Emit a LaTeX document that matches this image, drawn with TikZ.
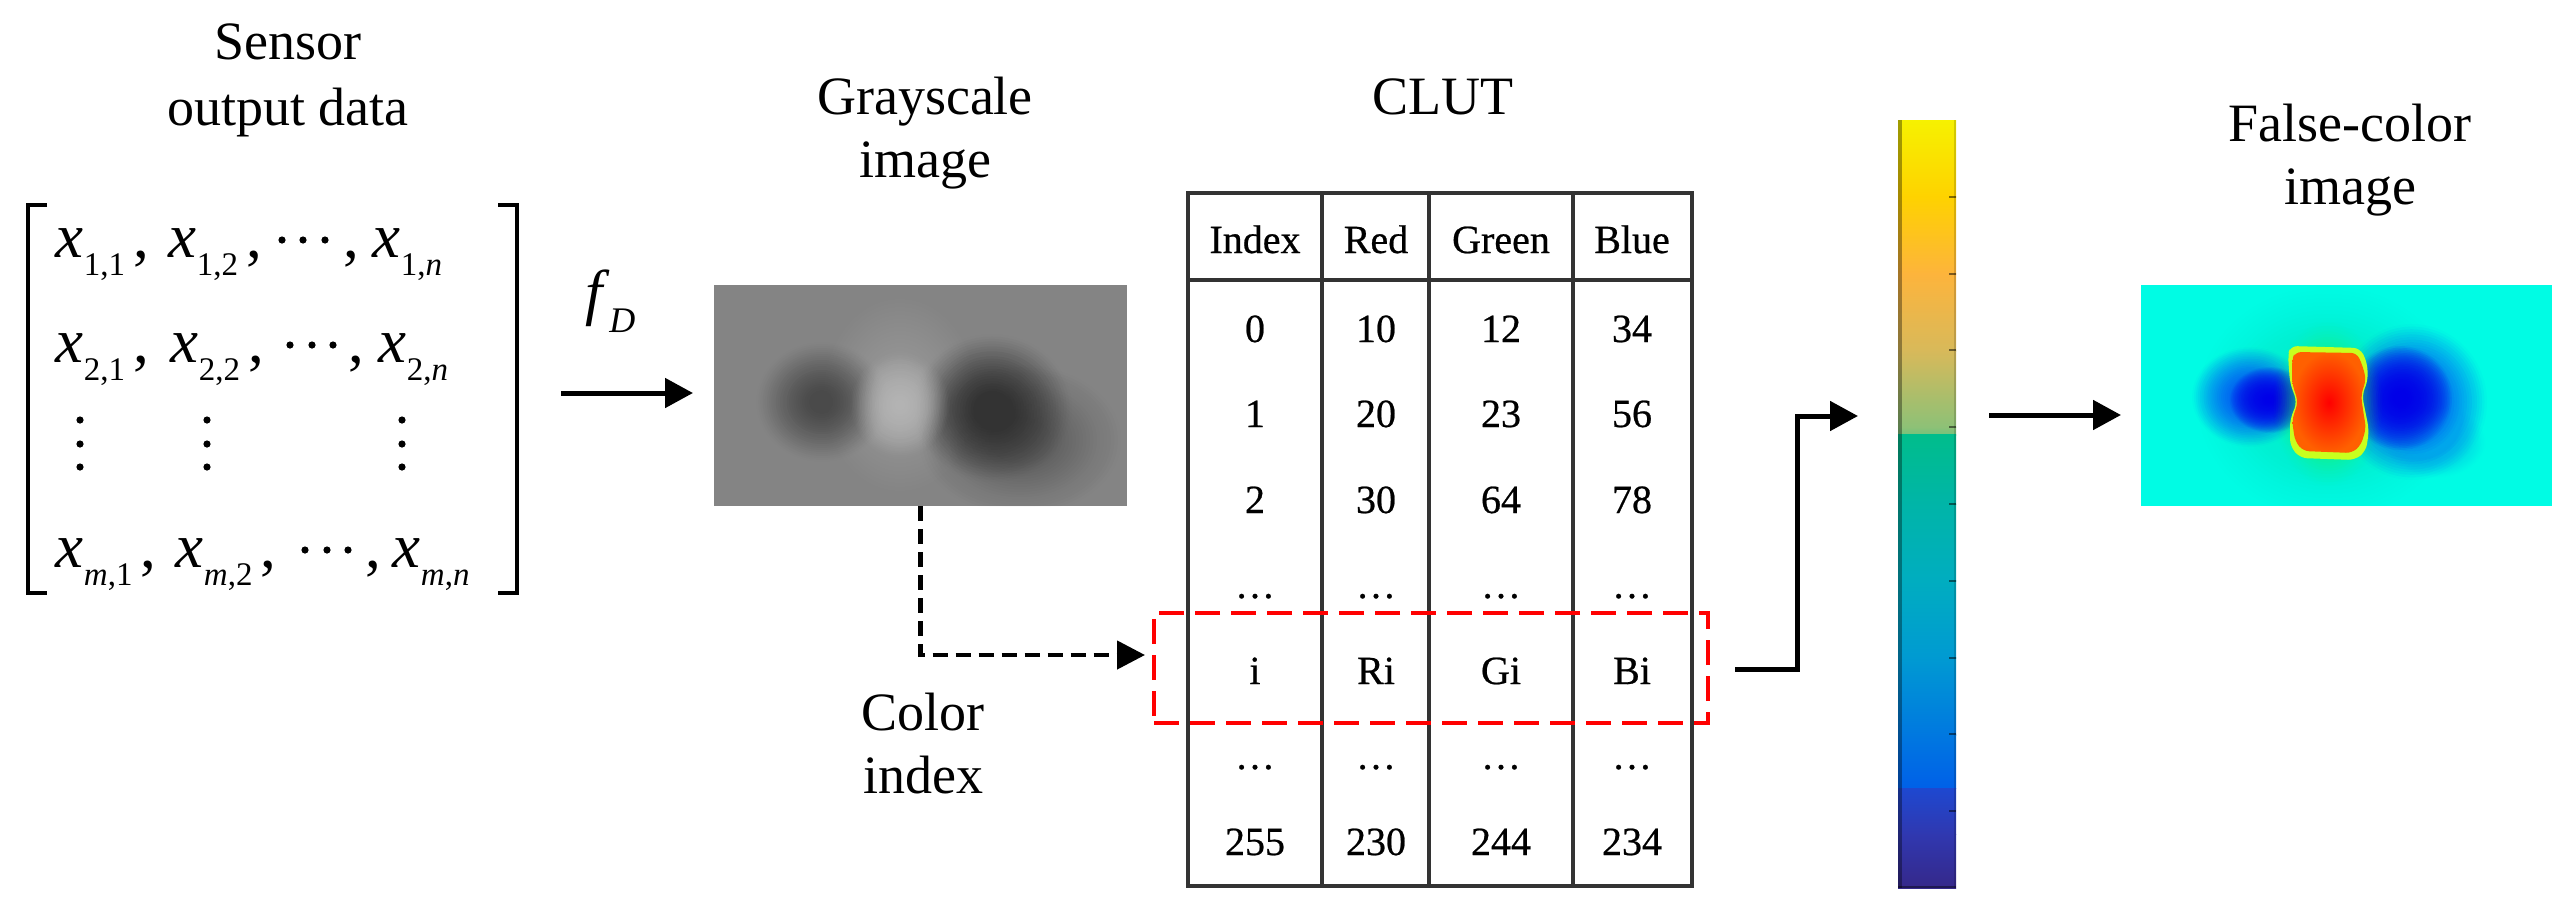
\documentclass[tikz,border=0pt]{standalone}
\usepackage{fontspec}
\setmainfont{Liberation Serif}
\newfontfamily\tabfont{Liberation Serif}[FakeBold=0.6]
\usetikzlibrary{arrows.meta}
\newcommand\fs[1]{\fontsize{#1}{#1}\selectfont}
\newcommand\xe[2]{\textit{x}\kern1pt\raisebox{-18pt}{\fs{33}#1,#2}}
% soft blob: colour, cx, cy, rx, ry, peak opacity, profile exponent
\newcommand\softblob[7]{%
  \foreach \i in {1,...,30}{%
    \pgfmathsetmacro\ta{(\i-0.5)/30}%
    \pgfmathsetmacro\tb{(\i+0.5)/30}%
    \pgfmathsetmacro\Ta{1-#6*max(0.00001,1-\ta*\ta)^#7}%
    \pgfmathsetmacro\Tb{1-#6*max(0.00001,1-\tb*\tb)^#7}%
    \pgfmathsetmacro\al{max(0,1-\Ta/\Tb)}%
    \pgfmathsetmacro\rxx{#4*\i/30}\pgfmathsetmacro\ryy{#5*\i/30}%
    \fill[#1, opacity=\al] (#2,#3) ellipse [x radius=\rxx pt, y radius=\ryy pt];}}
\definecolor{gbase}{HTML}{848484}
\definecolor{gdarkL}{HTML}{4A4A4A}
\definecolor{gdarkR}{HTML}{333333}
\definecolor{glight}{HTML}{BCBCBC}
\definecolor{fbase}{HTML}{00FCE4}
\definecolor{fglow}{HTML}{10F0A8}
\definecolor{fhalo}{HTML}{30FF50}
\definecolor{frim}{HTML}{C8FF1E}
\definecolor{forange}{HTML}{FF6000}
\definecolor{fred}{HTML}{FF0000}
\definecolor{fbl}{HTML}{0050FF}
\definecolor{fbd}{HTML}{0000E8}
\definecolor{cb0}{HTML}{F6F100}
\definecolor{cb1}{HTML}{FED200}
\definecolor{cb2}{HTML}{FDB43C}
\definecolor{cb3}{HTML}{D8B95A}
\definecolor{cb4}{HTML}{8CC177}
\definecolor{cb4b}{HTML}{72C27C}
\definecolor{cb5a}{HTML}{00BD8C}
\definecolor{cb5}{HTML}{00B5A8}
\definecolor{cb6}{HTML}{00ADC0}
\definecolor{cb7}{HTML}{009AD2}
\definecolor{cb8}{HTML}{0078E0}
\definecolor{cb87}{HTML}{0060E8}
\definecolor{cb87b}{HTML}{1E48D0}
\definecolor{cb93}{HTML}{3038B0}
\definecolor{cb10}{HTML}{35288A}
\begin{document}
\begin{tikzpicture}[x=1pt,y=-1pt,
  every node/.style={inner sep=0pt, outer sep=0pt},
  ttl/.style={anchor=base, font=\fs{54}},
  cell/.style={anchor=base, font=\tabfont\fs{40}},
  ent/.style={anchor=base west, font=\fs{63}},
  arr/.style={line width=5pt, -{Triangle[length=28pt,width=29pt]}},
  darr/.style={line width=4.5pt, dash pattern=on 15pt off 8pt, -{Triangle[length=28pt,width=28pt]}},
  tab/.style={line width=3.5pt, draw=black!80},
  brk/.style={line width=4.5pt},
  ticks/.style={line width=2pt, draw=black, opacity=0.5}
]
\useasboundingbox (0,0) rectangle (2567,900);

% ---------- titles ----------
\node[ttl] (t1a) at (288,59) {Sensor};
\node[ttl] (t1b) at (288,125) {output data};
\node[ttl] (t2a) at (925,114) {Grayscale};
\node[ttl] (t2b) at (925,177) {image};
\node[ttl] (t3) at (1443,114) {CLUT};
\node[ttl] (t4a) at (2350,141) {False-color};
\node[ttl] (t4b) at (2350,204) {image};
\node[ttl] (t5a) at (923,730) {Color};
\node[ttl] (t5b) at (923,793) {index};

% ---------- matrix ----------
\draw[brk] (47,205) -- (28,205) -- (28,593) -- (47,593);
\draw[brk] (498,205) -- (517,205) -- (517,593) -- (498,593);
\node[ent] (x11) at (55,257) {\xe{1}{1}\kern8pt,};
\node[ent] (x12) at (168,257) {\xe{1}{2}\kern8pt,};
\node[ent] (c1) at (343,257) {,};
\node[ent] (x1n) at (372,257) {\xe{1}{\textit{n}}};
\node[ent] (x21) at (55,362) {\xe{2}{1}\kern8pt,};
\node[ent] (x22) at (170,362) {\xe{2}{2}\kern8pt,};
\node[ent] (c2) at (348,362) {,};
\node[ent] (x2n) at (378,362) {\xe{2}{\textit{n}}};
\node[ent] (xm1) at (55,567) {\xe{\textit{m}}{1}\kern8pt,};
\node[ent] (xm2) at (175,567) {\xe{\textit{m}}{2}\kern8pt,};
\node[ent] (c3) at (365,567) {,};
\node[ent] (xmn) at (392,567) {\xe{\textit{m}}{\textit{n}}};
\foreach \px/\py in {282/240,303/240,325/240,290/345,312/345,333/345,305/550,327/550,348/550}
  \fill (\px,\py) circle (3.6pt);
\foreach \px in {80,207,402}
  \foreach \py in {420,444,467}
    \fill (\px,\py) circle (3.6pt);

% ---------- f_D arrow ----------
\node[anchor=base west, font=\fs{62}] (fD) at (585,313) {\textit{f}\raisebox{-19pt}{\fs{36}\textit{D}}};
\coordinate (a1s) at (561,393);
\coordinate (a1e) at (693,393);
\draw[arr] (a1s) -- (a1e);

% ---------- grayscale image ----------
\node[minimum width=413pt, minimum height=221pt, fill=gbase] (gray) at (920.5,395.5) {};
\begin{scope}
  \clip (gray.south west) rectangle (gray.north east);
  \softblob{white}{900}{395}{95}{120}{0.25}{2}
  \softblob{black}{1020}{440}{105}{78}{0.22}{1.6}
  \softblob{gdarkL}{822}{402}{66}{60}{0.88}{1.5}
  \softblob{gdarkR}{992}{408}{80}{74}{0.92}{1.4}
  \softblob{glight}{900}{405}{50}{54}{0.95}{1.3}
\end{scope}

% ---------- dashed connector ----------
\coordinate (dA) at (1145,655);
\draw[darr] (gray.south) |- (dA);

% ---------- CLUT table ----------
\node[tab, draw, line width=3.5pt, minimum width=504pt, minimum height=693pt] (clut) at (1440,539.5) {};
\draw[tab] (1188,280) -- (1692,280);
\foreach \cx in {1322,1429,1573} \draw[tab] (\cx,193) -- (\cx,886);
\node[cell] (h1) at (1255,253) {Index};
\node[cell] (h2) at (1376,253) {Red};
\node[cell] (h3) at (1501,253) {Green};
\node[cell] (h4) at (1632,253) {Blue};
\node[cell] (r01) at (1255,342) {0};
\node[cell] (r02) at (1376,342) {10};
\node[cell] (r03) at (1501,342) {12};
\node[cell] (r04) at (1632,342) {34};
\node[cell] (r11) at (1255,427) {1};
\node[cell] (r12) at (1376,427) {20};
\node[cell] (r13) at (1501,427) {23};
\node[cell] (r14) at (1632,427) {56};
\node[cell] (r21) at (1255,513) {2};
\node[cell] (r22) at (1376,513) {30};
\node[cell] (r23) at (1501,513) {64};
\node[cell] (r24) at (1632,513) {78};
\node[cell] (d11) at (1255,598) {…};
\node[cell] (d12) at (1376,598) {…};
\node[cell] (d13) at (1501,598) {…};
\node[cell] (d14) at (1632,598) {…};
\node[cell] (ri1) at (1255,684) {i};
\node[cell] (ri2) at (1376,684) {Ri};
\node[cell] (ri3) at (1501,684) {Gi};
\node[cell] (ri4) at (1632,684) {Bi};
\node[cell] (d21) at (1255,769) {…};
\node[cell] (d22) at (1376,769) {…};
\node[cell] (d23) at (1501,769) {…};
\node[cell] (d24) at (1632,769) {…};
\node[cell] (rl1) at (1255,855) {255};
\node[cell] (rl2) at (1376,855) {230};
\node[cell] (rl3) at (1501,855) {244};
\node[cell] (rl4) at (1632,855) {234};

% ---------- selection box ----------
\node[draw=red, line width=3.5pt, dash pattern=on 25pt off 11pt, minimum width=554pt, minimum height=110pt] (sel) at (1431,668) {};

% ---------- arrow to colour bar ----------
\coordinate (a2s) at (1735,669);
\coordinate (a2m) at (1797,416);
\coordinate (a2e) at (1858,416);
\draw[arr] (a2s) -| (a2m) -- (a2e);

% ---------- colour bar ----------
\node[minimum width=58pt, minimum height=768pt] (cbar) at (1927,504) {};
\shade[top color=cb0, bottom color=cb1] (1898,120) rectangle (1956,197.5);
\shade[top color=cb1, bottom color=cb2] (1898,196.8) rectangle (1956,274.3);
\shade[top color=cb2, bottom color=cb3] (1898,273.6) rectangle (1956,351.1);
\shade[top color=cb3, bottom color=cb4] (1898,350.4) rectangle (1956,427.9);
\shade[top color=cb4, bottom color=cb4b] (1898,427.2) rectangle (1956,435.6);
\shade[top color=cb5a, bottom color=cb5] (1898,434.9) rectangle (1956,504.7);
\shade[top color=cb5, bottom color=cb6] (1898,504) rectangle (1956,581.5);
\shade[top color=cb6, bottom color=cb7] (1898,580.8) rectangle (1956,658.3);
\shade[top color=cb7, bottom color=cb8] (1898,657.6) rectangle (1956,735.1);
\shade[top color=cb8, bottom color=cb87] (1898,734.4) rectangle (1956,788.9);
\shade[top color=cb87b, bottom color=cb93] (1898,788.2) rectangle (1956,834.9);
\shade[top color=cb93, bottom color=cb10] (1898,834.2) rectangle (1956,888);
\draw[line width=3.5pt, black, opacity=0.35] (1899.8,120) -- (1899.8,888);
\draw[line width=2pt, black, opacity=0.15] (1955,120) -- (1955,888);
\draw[line width=2pt, black, opacity=0.4] (1898,887) -- (1956,887);
\foreach \k in {1,...,9}
  \draw[ticks] (1949,120+76.8*\k) -- (1956,120+76.8*\k);

% ---------- arrow to false colour ----------
\coordinate (a3s) at (1989,415);
\coordinate (a3e) at (2121,415);
\draw[arr] (a3s) -- (a3e);

% ---------- false-colour image ----------
\node[minimum width=411pt, minimum height=221pt, fill=fbase] (fimg) at (2346.5,395.5) {};
\begin{scope}
  \clip (fimg.south west) rectangle (fimg.north east);
  \softblob{fglow}{2328}{402}{135}{120}{0.4}{2}
  \softblob{fbl}{2250}{397}{58}{50}{0.92}{1.1}
  \softblob{fbl}{2412}{402}{75}{78}{0.92}{1.1}
  \softblob{fbl!50!fbase}{2436}{442}{50}{36}{0.5}{1.2}
  \softblob{fbd}{2270}{400}{40}{33}{0.95}{0.8}
  \softblob{fbd}{2400}{398}{52}{52}{0.95}{0.8}
  \softblob{fhalo}{2328}{404}{56}{84}{0.75}{1.6}
  \fill[frim, rounded corners=7pt] (2290,346) -- (2360,348) -- (2367,362) -- (2368,380) -- (2362,395) -- (2365,410) -- (2369,430) -- (2366,451) -- (2355,460) -- (2300,458) -- (2290,446) -- (2290,420) -- (2297,402) -- (2290,383) -- (2288,356) -- cycle;
  \shade[inner color=fred, outer color=forange, rounded corners=6pt] (2295,352) -- (2357,353) -- (2363,367) -- (2366,380) -- (2361,395) -- (2363,410) -- (2366,428) -- (2361,445) -- (2352,453) -- (2303,451) -- (2295,441) -- (2292,420) -- (2298,402) -- (2292,383) -- (2292,360) -- cycle;
\end{scope}
\end{tikzpicture}
\end{document}
